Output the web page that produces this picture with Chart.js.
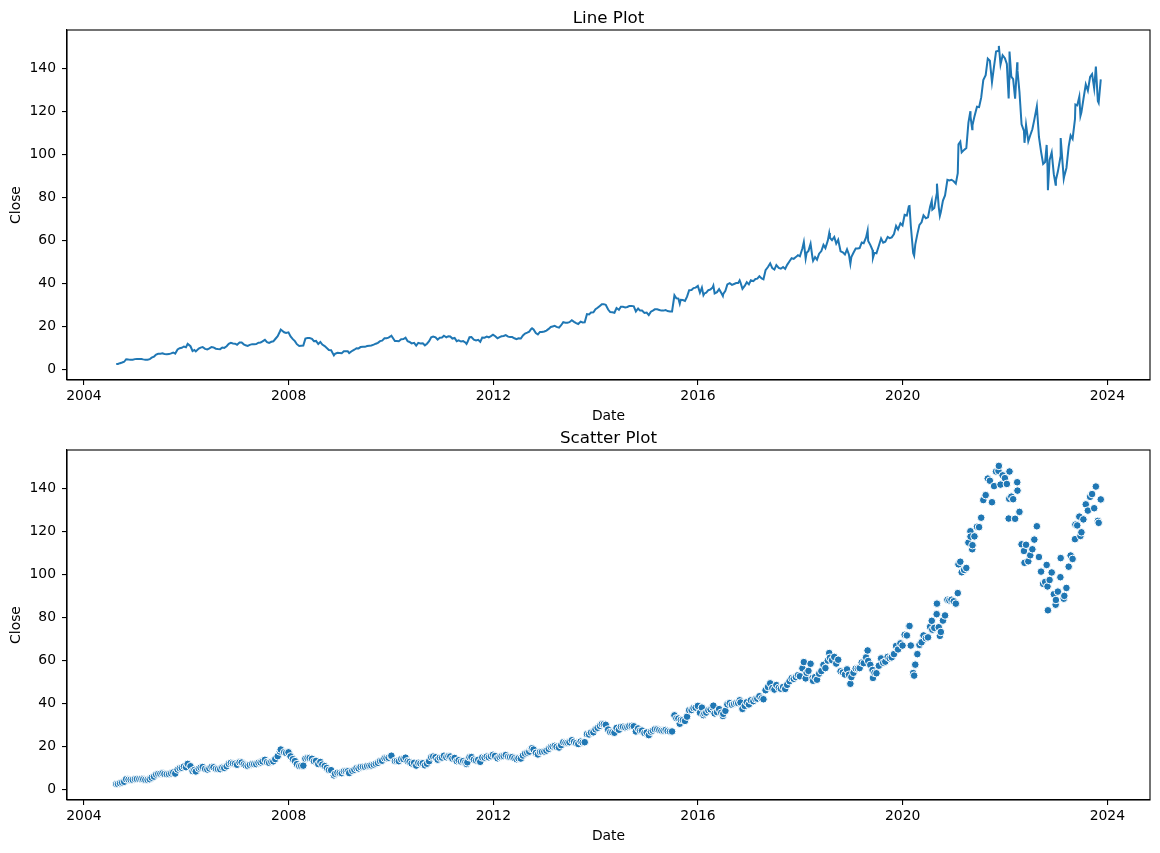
<!DOCTYPE html>
<html>
<head>
<meta charset="utf-8">
<script src="https://cdn.jsdelivr.net/npm/chart.js@4.4.1/dist/chart.umd.min.js"></script>
<style>
    body { margin: 0; background: #fff; width: 1160px; height: 853px; position: relative; overflow: hidden; }
    .box { position: absolute; left: 0; width: 1160px; height: 426px; }
</style>
</head>
<body>
<div class="box" style="top:0"><canvas id="linechart" width="1160" height="426"></canvas></div>
<div class="box" style="top:420px"><canvas id="scatterchart" width="1160" height="426"></canvas></div>
<script>
// dates + close values (roughly month ends, plus the big highs/lows)
var dates = [
    "2004-08-19","2004-08-31","2004-09-30","2004-10-29","2004-11-30","2004-12-31",
    "2005-01-31","2005-02-28","2005-03-31","2005-04-29","2005-05-31","2005-06-30","2005-07-29","2005-08-31","2005-09-30","2005-10-31","2005-11-30","2005-12-30",
    "2006-01-11","2006-01-31","2006-02-28","2006-03-10","2006-03-31","2006-04-28","2006-05-31","2006-06-30","2006-07-31","2006-08-31","2006-09-29","2006-10-31","2006-11-30","2006-12-29",
    "2007-01-31","2007-02-28","2007-03-30","2007-04-30","2007-05-31","2007-06-29","2007-07-31","2007-08-31","2007-09-28","2007-10-31","2007-11-06","2007-11-30","2007-12-31",
    "2008-01-31","2008-02-29","2008-03-17","2008-03-31","2008-04-30","2008-05-30","2008-06-30","2008-07-31","2008-08-29","2008-09-30","2008-10-31","2008-11-20","2008-11-28","2008-12-31",
    "2009-01-30","2009-02-27","2009-03-09","2009-03-31","2009-04-30","2009-05-29","2009-06-30","2009-07-31","2009-08-31","2009-09-30","2009-10-30","2009-11-30","2009-12-31",
    "2010-01-04","2010-01-29","2010-02-26","2010-03-31","2010-04-30","2010-05-28","2010-06-30","2010-07-30","2010-08-31","2010-09-30","2010-10-29","2010-11-30","2010-12-31",
    "2011-01-31","2011-02-28","2011-03-31","2011-04-29","2011-05-31","2011-06-24","2011-06-30","2011-07-29","2011-08-31","2011-09-30","2011-10-31","2011-11-30","2011-12-30",
    "2012-01-31","2012-02-29","2012-03-30","2012-04-30","2012-05-31","2012-06-29","2012-07-31","2012-08-31","2012-09-28","2012-10-04","2012-10-31","2012-11-30","2012-12-31",
    "2013-01-31","2013-02-28","2013-03-28","2013-04-30","2013-05-31","2013-06-28","2013-07-31","2013-08-30","2013-09-30","2013-10-31","2013-11-29","2013-12-31",
    "2014-01-31","2014-02-28","2014-03-31","2014-04-30","2014-05-30","2014-06-30","2014-07-31","2014-08-29","2014-09-30","2014-10-31","2014-11-28","2014-12-31",
    "2015-01-30","2015-02-27","2015-03-31","2015-04-30","2015-05-29","2015-06-30","2015-07-17","2015-07-31","2015-08-24","2015-08-31","2015-09-30","2015-10-30","2015-11-30","2015-12-31",
    "2016-01-29","2016-02-09","2016-02-29","2016-03-31","2016-04-20","2016-04-29","2016-05-31","2016-06-27","2016-06-30","2016-07-29","2016-08-31","2016-09-30","2016-10-25","2016-10-31","2016-11-14","2016-11-30","2016-12-30",
    "2017-01-31","2017-02-28","2017-03-31","2017-04-28","2017-05-31","2017-06-30","2017-07-31","2017-08-31","2017-09-29","2017-10-31","2017-11-30","2017-12-29",
    "2018-01-26","2018-02-08","2018-02-28","2018-03-29","2018-04-02","2018-04-30","2018-05-31","2018-06-29","2018-07-26","2018-07-31","2018-08-31","2018-09-28","2018-10-31","2018-11-30","2018-12-24","2018-12-31",
    "2019-01-31","2019-02-28","2019-03-29","2019-04-26","2019-04-30","2019-05-31","2019-06-03","2019-06-28","2019-07-31","2019-08-30","2019-09-30","2019-10-31","2019-11-29","2019-12-31",
    "2020-01-31","2020-02-19","2020-02-28","2020-03-23","2020-03-31","2020-04-30","2020-05-29","2020-06-30","2020-07-27","2020-07-31","2020-08-31","2020-09-02","2020-09-23","2020-09-30","2020-10-30","2020-11-30","2020-12-31",
    "2021-01-29","2021-02-03","2021-02-26","2021-03-31","2021-04-29","2021-04-30","2021-05-12","2021-05-28","2021-06-30","2021-07-30","2021-08-31","2021-09-30","2021-10-29","2021-11-18","2021-11-30","2021-12-31",
    "2022-01-27","2022-01-31","2022-02-02","2022-02-28","2022-03-14","2022-03-29","2022-03-31","2022-04-29","2022-05-20","2022-05-31","2022-06-16","2022-06-30","2022-07-29","2022-08-16","2022-08-31","2022-09-30","2022-10-25","2022-10-31","2022-11-03","2022-11-30","2022-12-28","2022-12-30",
    "2023-01-31","2023-02-02","2023-02-24","2023-02-28","2023-03-31","2023-04-28","2023-05-18","2023-05-31","2023-06-15","2023-06-23","2023-06-30","2023-07-31","2023-08-31","2023-09-14","2023-09-29","2023-10-11","2023-10-25","2023-10-31","2023-11-15"
];
var closes = [
    2.51,2.56,3.24,4.77,4.55,4.82,
    4.89,4.70,4.51,5.50,6.93,7.35,7.19,7.15,7.91,9.30,10.12,10.37,
    11.9,10.82,9.07,8.4,9.75,10.45,9.30,10.48,9.67,9.46,10.05,11.91,12.12,11.51,
    12.54,11.24,11.45,11.78,12.45,13.07,12.75,12.88,14.18,17.68,18.6,17.33,17.29,
    14.11,11.78,10.9,11.01,14.36,14.65,13.16,11.84,11.58,10.01,8.98,6.57,7.32,7.69,
    8.46,8.45,7.65,8.70,9.90,10.43,10.54,11.08,11.54,12.40,13.40,14.58,15.50,
    15.7,13.25,13.17,14.18,13.14,12.14,11.12,12.12,11.25,13.14,15.34,13.89,14.85,
    15.01,15.34,14.67,13.60,13.23,11.9,12.66,15.09,13.52,12.88,14.82,14.98,16.15,
    14.52,15.46,16.03,15.12,14.52,14.50,15.81,17.13,18.86,19.2,17.01,17.46,17.68,
    18.89,20.03,19.85,20.61,21.78,22.01,22.19,21.17,21.90,25.76,26.49,28.02,
    29.6,30.4,27.9,26.6,28.6,29.2,28.9,29.5,29.4,28.4,27.4,26.5,
    26.9,28.0,27.7,27.4,27.2,27.0,34.5,33.1,30.6,32.4,31.9,36.9,37.9,38.9,
    38.1,34.6,35.8,37.3,39.0,35.4,37.4,34.2,35.2,39.6,39.4,40.2,41.5,40.5,37.5,38.9,39.6,
    41.1,42.3,42.4,46.2,49.4,46.5,47.3,47.7,48.7,51.8,52.3,52.7,
    59.3,51.7,55.2,51.9,50.6,51.1,55.1,56.5,63.5,61.3,61.7,60.4,54.5,55.9,49.2,52.3,
    56.3,56.5,58.8,64.7,59.8,55.6,51.9,54.1,61.0,59.5,61.1,63.0,65.2,67.0,
    71.7,76.1,67.0,53.0,58.1,67.3,71.7,70.8,78.5,74.4,81.6,86.5,71.5,73.3,81.0,88.0,87.6,
    91.4,104.8,101.1,103.1,120.2,117.7,111.8,117.8,122.1,134.7,144.7,133.7,148.0,150.6,141.9,144.9,
    126.1,135.3,148.0,135.1,126.0,143.0,139.1,114.1,105.5,113.9,106.2,109.0,116.3,122.5,108.2,95.7,104.5,94.5,83.4,101.0,86.0,88.2,
    98.8,107.7,88.8,90.1,103.7,107.3,123.3,122.9,127.0,118.0,119.7,132.7,136.2,137.5,130.9,141.0,125.0,124.1,135.0
];
// mid-month readings, merged in below
var midDates = [
    "2004-09-15","2004-10-15","2004-11-15","2004-12-15",
    "2005-01-14","2005-02-15","2005-03-15","2005-04-15","2005-05-16","2005-06-15","2005-07-15","2005-08-15","2005-09-15","2005-10-14","2005-11-15","2005-12-15",
    "2006-02-15","2006-04-13","2006-05-15","2006-06-15","2006-07-14","2006-08-15","2006-09-15","2006-10-16","2006-11-15","2006-12-15",
    "2007-01-16","2007-02-15","2007-03-15","2007-04-16","2007-05-15","2007-06-15","2007-07-16","2007-08-15","2007-09-14","2007-10-15","2007-12-14",
    "2008-01-15","2008-02-15","2008-04-15","2008-05-15","2008-06-16","2008-07-15","2008-08-15","2008-09-15","2008-10-15","2008-12-15",
    "2009-01-15","2009-02-13","2009-04-15","2009-05-15","2009-06-15","2009-07-15","2009-08-14","2009-09-15","2009-10-15","2009-11-16","2009-12-15",
    "2010-02-12","2010-03-15","2010-04-15","2010-05-14","2010-06-15","2010-07-15","2010-08-16","2010-09-15","2010-10-15","2010-11-15","2010-12-15",
    "2011-01-14","2011-02-15","2011-03-15","2011-04-15","2011-05-16","2011-06-15","2011-07-15","2011-08-15","2011-09-15","2011-10-14","2011-11-15","2011-12-15",
    "2012-01-13","2012-02-15","2012-03-15","2012-04-16","2012-05-15","2012-06-15","2012-07-16","2012-08-15","2012-09-14","2012-10-15","2012-11-15","2012-12-14",
    "2013-01-15","2013-02-15","2013-03-15","2013-04-15","2013-05-15","2013-06-14","2013-07-15","2013-08-15","2013-09-16","2013-10-15","2013-11-15","2013-12-16",
    "2014-01-15","2014-02-14","2014-03-14","2014-04-15","2014-05-15","2014-06-16","2014-07-15","2014-08-15","2014-09-15","2014-10-15","2014-11-14","2014-12-15",
    "2015-01-15","2015-02-13","2015-03-16","2015-04-15","2015-05-15","2015-06-15","2015-08-14","2015-09-15","2015-10-15","2015-11-16","2015-12-15",
    "2016-01-15","2016-02-16","2016-03-15","2016-04-15","2016-05-16","2016-06-15","2016-07-15","2016-08-15","2016-09-15","2016-10-14","2016-12-15",
    "2017-01-13","2017-02-15","2017-03-15","2017-04-13","2017-05-15","2017-06-15","2017-07-14","2017-08-15","2017-09-15","2017-10-16","2017-11-15","2017-12-15",
    "2018-01-16","2018-02-15","2018-03-15","2018-04-16","2018-05-15","2018-06-15","2018-07-16","2018-08-15","2018-09-14","2018-10-15","2018-11-15","2018-12-14",
    "2019-01-15","2019-02-15","2019-03-15","2019-04-15","2019-05-15","2019-06-14","2019-07-15","2019-08-15","2019-09-16","2019-10-15","2019-11-15","2019-12-16",
    "2020-01-15","2020-02-14","2020-03-16","2020-04-15","2020-05-15","2020-06-15","2020-07-15","2020-08-14","2020-09-15","2020-10-15","2020-11-16","2020-12-15",
    "2021-01-15","2021-02-16","2021-03-15","2021-04-15","2021-05-14","2021-06-15","2021-07-15","2021-08-16","2021-09-15","2021-10-15","2021-11-15","2021-12-15",
    "2022-01-14","2022-02-15","2022-04-14","2022-05-16","2022-07-15","2022-09-15","2022-10-14","2022-11-15","2022-12-15",
    "2023-01-13","2023-03-15","2023-04-14","2023-05-15","2023-07-14","2023-08-15"
];
var midCloses = [
    2.93,3.6,4.6,4.5,
    4.9,4.9,4.5,4.8,6.0,7.3,7.5,7.1,7.5,7.4,9.9,10.7,
    8.6,10.2,9.6,9.8,10.3,9.5,10.2,10.8,12.4,12.0,
    12.6,11.7,11.0,11.8,11.8,12.6,13.8,12.4,13.1,15.5,17.0,
    15.4,13.2,11.1,14.6,14.3,13.3,12.8,10.9,9.1,7.8,
    7.6,8.5,9.2,9.8,10.6,10.9,11.2,12.0,13.2,14.5,14.8,
    13.3,14.1,14.8,12.8,12.4,12.4,12.2,12.0,15.0,15.0,14.8,
    15.7,15.5,14.4,13.2,13.0,12.6,15.0,13.9,13.8,14.9,15.3,15.5,
    15.6,15.1,15.6,15.3,15.1,14.1,14.4,16.7,17.6,18.6,16.3,17.5,
    18.1,19.8,20.3,19.5,22.0,21.8,22.9,21.6,22.3,22.0,25.6,26.6,
    28.7,30.4,30.1,26.7,26.4,27.8,29.2,29.1,29.6,27.0,27.4,26.3,
    25.3,27.4,28.0,27.4,27.7,27.0,33.0,32.3,33.9,37.0,38.1,
    35.7,35.4,36.9,38.2,36.0,35.7,36.6,40.2,39.8,40.2,40.6,
    41.5,42.1,43.4,42.0,47.7,47.2,48.6,46.9,46.8,50.4,51.5,53.2,
    56.4,54.3,58.5,52.3,53.9,58.0,60.0,60.2,58.6,55.0,53.5,53.4,
    54.3,56.3,59.1,61.5,58.0,54.3,57.6,59.0,61.7,61.5,66.8,68.0,
    72.0,76.0,54.2,63.0,68.5,70.4,75.7,75.2,75.5,78.6,88.3,88.3,
    86.5,106.0,102.2,114.9,113.7,122.3,126.5,137.0,143.7,141.2,148.3,146.2,
    142.2,136.3,129.2,111.0,111.8,101.4,96.6,97.5,90.9,
    92.1,93.8,108.9,116.5,125.7,129.8
];
var yearTicks = [2004, 2008, 2012, 2016, 2020, 2024];
var closeTicks = [0, 20, 40, 60, 80, 100, 120, 140];

var blue = '#1f77b4';
var font = '"DejaVu Sans", sans-serif';

// date string -> decimal year (linear x axis, no date adapter)
function toYear(s) {
    var p = s.split('-');
    var y = +p[0];
    var t = Date.UTC(y, +p[1] - 1, +p[2]);
    var y0 = Date.UTC(y, 0, 1), y1 = Date.UTC(y + 1, 0, 1);
    return y + (t - y0) / (y1 - y0);
}

var points = dates.map(function(d, i) {
    return { x: toYear(d), y: closes[i] };
}).concat(midDates.map(function(d, i) {
    return { x: toYear(d), y: midCloses[i] };
}));
points.sort(function(a, b) { return a.x - b.x; });

// matplotlib style 5% margins
var xs = points.map(function(p) { return p.x; });
var ys = points.map(function(p) { return p.y; });
var xMin = Math.min.apply(null, xs), xMax = Math.max.apply(null, xs);
var yMin = Math.min.apply(null, ys), yMax = Math.max.apply(null, ys);
var xPad = (xMax - xMin) * 0.05, yPad = (yMax - yMin) * 0.05;

// box around the axes + title above
var framePlugin = {
    id: 'frame',
    afterDraw: function(chart, args, opts) {
        var ctx = chart.ctx, a = chart.chartArea;
        ctx.save();
        ctx.strokeStyle = '#000';
        ctx.lineWidth = 1.1;
        ctx.strokeRect(a.left, a.top, a.right - a.left, a.bottom - a.top);
        ctx.fillStyle = '#000';
        ctx.font = '16.7px ' + font;
        ctx.textAlign = 'center';
        ctx.textBaseline = 'alphabetic';
        ctx.fillText(opts.text, (a.left + a.right) / 2, a.top - 7);
        ctx.restore();
    }
};

function makeOptions(title) {
    return {
        responsive: false,
        animation: false,
        layout: { padding: { top: 30, right: 10, left: 0, bottom: 0 } },
        plugins: {
            legend: { display: false },
            tooltip: { enabled: false },
            frame: { text: title }
        },
        scales: {
            x: {
                type: 'linear',
                min: xMin - xPad,
                max: xMax + xPad,
                afterBuildTicks: function(scale) {
                    scale.ticks = yearTicks.map(function(v) { return { value: v }; });
                },
                afterFit: function(scale) { scale.height = 46; },
                ticks: {
                    autoSkip: false, maxRotation: 0, padding: 3, color: '#000',
                    font: { family: font, size: 13.9 },
                    callback: function(v) { return String(v); }
                },
                grid: { drawOnChartArea: false, drawTicks: true, tickLength: 5, color: '#000', tickColor: '#000', lineWidth: 1.1 },
                border: { display: true, color: '#000', width: 1.1 },
                title: { display: true, text: 'Date', color: '#000', font: { family: font, size: 13.9, lineHeight: 1.2 }, padding: { top: 0, bottom: 1.7 } }
            },
            y: {
                min: yMin - yPad,
                max: yMax + yPad,
                afterBuildTicks: function(scale) {
                    scale.ticks = closeTicks.map(function(v) { return { value: v }; });
                },
                afterFit: function(scale) { scale.width = 67; },
                ticks: { padding: 6, color: '#000', font: { family: font, size: 13.9 } },
                grid: { drawOnChartArea: false, drawTicks: true, tickLength: 5, color: '#000', tickColor: '#000', lineWidth: 1.1 },
                border: { display: true, color: '#000', width: 1.1 },
                title: { display: true, text: 'Close', color: '#000', font: { family: font, size: 13.9, lineHeight: 1.2 }, padding: { top: 8.4, bottom: 0 } }
            }
        }
    };
}

document.addEventListener("DOMContentLoaded", function() {
    // line plot
    new Chart(document.getElementById("linechart").getContext("2d"), {
        type: "line",
        data: {
            datasets: [{
                data: points,
                borderColor: blue,
                borderWidth: 2,
                pointRadius: 0,
                tension: 0,
                fill: false
            }]
        },
        options: makeOptions('Line Plot'),
        plugins: [framePlugin]
    });

    // scatter plot
    new Chart(document.getElementById("scatterchart").getContext("2d"), {
        type: "scatter",
        data: {
            datasets: [{
                data: points,
                backgroundColor: blue,
                borderColor: '#ffffff',
                borderWidth: 1,
                pointRadius: 3.8
            }]
        },
        options: makeOptions('Scatter Plot'),
        plugins: [framePlugin]
    });
});
</script>
</body>
</html>
